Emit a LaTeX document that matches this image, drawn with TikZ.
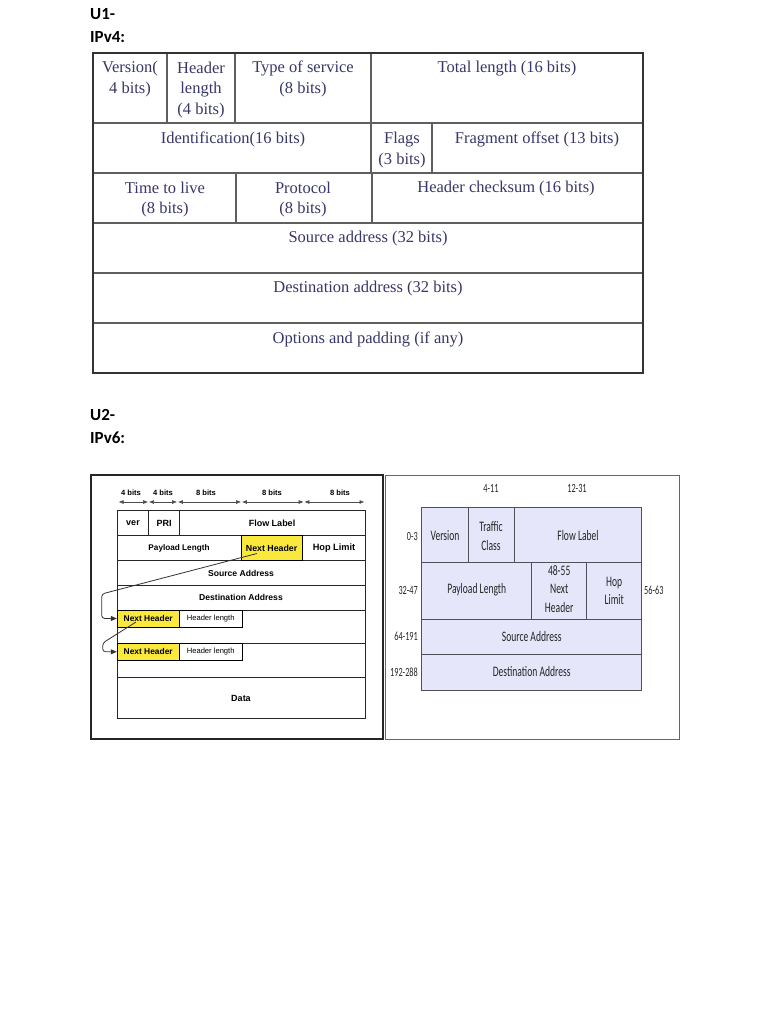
\documentclass[tikz,border=0pt]{standalone}
\usepackage{fontspec}
\setmainfont{Liberation Serif}
\newfontfamily\carl{Carlito}
\newfontfamily\carlc[FakeStretch=0.66]{Carlito}
\newfontfamily\arialf{Liberation Sans}
\usetikzlibrary{arrows.meta,calc}
\definecolor{vfour}{RGB}{55,55,105}
\definecolor{vfourline}{RGB}{95,95,95}
\definecolor{nhyellow}{RGB}{250,232,60}
\definecolor{lav}{RGB}{230,230,250}
\definecolor{lavline}{RGB}{80,80,90}
\begin{document}
\begin{tikzpicture}[x=1pt,y=-1pt,
  head/.style={inner sep=0,anchor=west,font=\carl\bfseries\fontsize{17}{20}\selectfont},
  ffour/.style={inner sep=0,text=vfour,align=center,font=\fontsize{16.5}{20.5}\selectfont},
  fsix/.style={inner sep=0,font=\arialf\bfseries\fontsize{8.6}{10}\selectfont},
  fsixs/.style={inner sep=0,font=\arialf\fontsize{7.6}{9}\selectfont},
  ruler/.style={inner sep=0,font=\arialf\bfseries\fontsize{7.6}{9}\selectfont},
  rarr/.style={black!70,line width=0.5pt,{Triangle[length=4.5pt,width=3.5pt]}-{Triangle[length=4.5pt,width=3.5pt]}},
  ylw/.style={draw=black,line width=0.8pt,fill=nhyellow,inner sep=0},
  hlbox/.style={draw=black,line width=0.8pt,fill=white,inner sep=0},
  nharrow/.style={line width=0.8pt,draw=black!80,-{Triangle[length=6pt,width=5pt]}},
  fr/.style={inner sep=0,align=center,text=black!85,font=\carlc\fontsize{14.5}{18.3}\selectfont},
  frn/.style={inner sep=0,text=black!85,font=\carlc\fontsize{12.5}{14}\selectfont}
]
\useasboundingbox (0,0) rectangle (768,1024);
\fill[white] (0,0) rectangle (768,1024);

% headings
\node[head] (u1) at (90,14) {U1-};
\node[head] (v4) at (90,37.5) {IPv4:};
\node[head] (u2) at (90,415) {U2-};
\node[head] (v6) at (90,438) {IPv6:};

% ---------- IPv4 table ----------
\draw[vfourline,line width=1.1pt]
  (93,123) -- (643,123) (93,173) -- (643,173) (93,223) -- (643,223)
  (93,273) -- (643,273) (93,323) -- (643,323)
  (167,53) -- (167,123) (235,53) -- (235,123) (371,53) -- (371,123)
  (371,123) -- (371,173) (432,123) -- (432,173)
  (236,173) -- (236,223) (372,173) -- (372,223);
\draw[black!80,line width=2.4pt] (93,53) rectangle (643,373);

\node[ffour] (ver4) at (130,79) {Version(\\4 bits)};
\node[ffour] (hl4) at (201,90) {Header\\length\\(4 bits)};
\node[ffour] (tos) at (303,79) {Type of service\\(8 bits)};
\node[ffour] (tl) at (507,69) {Total length (16 bits)};
\node[ffour] (idf) at (233,139) {Identification(16 bits)};
\node[ffour] (flg) at (402,150) {Flags\\(3 bits)};
\node[ffour] (fo) at (537,139) {Fragment offset (13 bits)};
\node[ffour] (ttl) at (165,199.5) {Time to live\\(8 bits)};
\node[ffour] (prt) at (303,199.5) {Protocol\\(8 bits)};
\node[ffour] (hc) at (506,189) {Header checksum (16 bits)};
\node[ffour] (sa4) at (368,239) {Source address (32 bits)};
\node[ffour] (da4) at (368,289) {Destination address (32 bits)};
\node[ffour] (opt) at (368,339) {Options and padding (if any)};

% ---------- IPv6 left panel ----------
\draw[black!85,line width=1.3pt] (91,475) rectangle (383,739);

\node[ruler] (r1) at (131,493) {4 bits};
\node[ruler] (r2) at (163,493) {4 bits};
\node[ruler] (r3) at (206,493) {8 bits};
\node[ruler] (r4) at (272,493) {8 bits};
\node[ruler] (r5) at (340,493) {8 bits};
\coordinate (q0) at (119,502);
\coordinate (q1) at (148.5,502);
\coordinate (q2) at (177.5,502);
\coordinate (q3) at (241.5,502);
\coordinate (q4) at (304,502);
\coordinate (q5) at (364,502);
\draw[rarr] (q0) -- ($(q1)+(-0.8,0)$);
\draw[rarr] ($(q1)+(0.8,0)$) -- ($(q2)+(-0.8,0)$);
\draw[rarr] ($(q2)+(0.8,0)$) -- ($(q3)+(-0.8,0)$);
\draw[rarr] ($(q3)+(0.8,0)$) -- ($(q4)+(-0.8,0)$);
\draw[rarr] ($(q4)+(0.8,0)$) -- (q5);

\draw[black!85,line width=1pt]
  (117,510.7) rectangle (365,718)
  (117,535.7) -- (365,535.7) (117,560) -- (365,560) (117,585) -- (365,585)
  (117,610) -- (365,610) (117,643.3) -- (365,643.3) (117,677) -- (365,677)
  (148.3,510.7) -- (148.3,535.7) (179.3,510.7) -- (179.3,535.7)
  (302.3,535.7) -- (302.3,560);

\node[fsix,font=\arialf\bfseries\fontsize{9}{10}\selectfont] (ver6) at (133,523) {ver};
\node[fsix,font=\arialf\bfseries\fontsize{9}{10}\selectfont] (pri) at (164,523) {PRI};
\node[fsix,font=\arialf\bfseries\fontsize{9}{10}\selectfont] (fl6) at (272,523) {Flow Label};
\node[fsix,font=\arialf\bfseries\fontsize{8.2}{10}\selectfont] (pl6) at (179,548) {Payload Length};
\node[ylw,minimum width=61.3pt,minimum height=24.3pt] (nh1) at (271.6,547.9) {};
\node[fsix,font=\arialf\bfseries\fontsize{8.8}{10}\selectfont] (nh1t) at (271.6,547.9) {Next Header};
\node[fsix,font=\arialf\bfseries\fontsize{9.2}{10}\selectfont] (hop6) at (334,548) {Hop Limit};
\node[fsix] (sa6) at (241,573) {Source Address};
\node[fsix] (da6) at (241,597.5) {Destination Address};

\node[ylw,minimum width=62pt,minimum height=17pt] (nh2) at (148.2,618.5) {};
\node[fsix,font=\arialf\bfseries\fontsize{8.4}{9}\selectfont] (nh2t) at (148.2,618.5) {Next Header};
\node[hlbox,minimum width=63pt,minimum height=17pt] (hl2) at (210.7,618.5) {};
\node[fsixs] (hl2t) at (210.7,618.5) {Header length};

\node[ylw,minimum width=62pt,minimum height=17pt] (nh3) at (148.2,651.8) {};
\node[fsix,font=\arialf\bfseries\fontsize{8.4}{9}\selectfont] (nh3t) at (148.2,651.8) {Next Header};
\node[hlbox,minimum width=63pt,minimum height=17pt] (hl3) at (210.7,651.8) {};
\node[fsixs] (hl3t) at (210.7,651.8) {Header length};

\node[fsix,font=\arialf\bfseries\fontsize{9}{10}\selectfont] (data) at (241,698) {Data};

\coordinate (a1s) at (257,553.5);
\coordinate (a1c) at (101.7,594);
\draw[nharrow,rounded corners=3pt] (a1s) -- (a1c) -- (a1c |- nh2.west) -- (nh2.west);
\coordinate (a2s) at (136,622);
\coordinate (a2c) at (102.7,643);
\draw[nharrow,rounded corners=3pt] (a2s) -- (a2c) -- (a2c |- nh3.west) -- (nh3.west);

% ---------- IPv6 right panel ----------
\draw[black!60,line width=0.9pt] (385,475) rectangle (679,739);
\fill[lav] (421.7,507.3) rectangle (641.7,690);
\draw[lavline,line width=0.8pt]
  (421.7,507.3) rectangle (641.7,690)
  (421.7,562.7) -- (641.7,562.7) (421.7,619) -- (641.7,619) (421.7,654.3) -- (641.7,654.3)
  (468.3,507.3) -- (468.3,562.7) (514.3,507.3) -- (514.3,562.7)
  (531.7,562.7) -- (531.7,619) (586.7,562.7) -- (586.7,619);

\node[frn] (b411) at (491,488.5) {4-11};
\node[frn] (b1231) at (577,488.5) {12-31};
\node[frn,anchor=east] (b03) at (418,536) {0-3};
\node[frn,anchor=east] (b3247) at (418,590) {32-47};
\node[frn,anchor=west] (b5663) at (644,590) {56-63};
\node[frn,anchor=east] (b64) at (418,636.5) {64-191};
\node[frn,anchor=east] (b192) at (418,672) {192-288};

\node[fr] (vr) at (445,536) {Version};
\node[fr] (tc) at (491,536) {Traffic\\Class};
\node[fr] (flr) at (578,536) {Flow Label};
\node[fr] (plr) at (476.7,590) {Payload Length};
\node[fr] (nhr) at (559.2,589) {48-55\\Next\\Header};
\node[fr] (hlr) at (614.2,591) {Hop\\Limit};
\node[fr] (sar) at (531.7,636.5) {Source Address};
\node[fr] (dar) at (531.7,672) {Destination Address};
\end{tikzpicture}
\end{document}
